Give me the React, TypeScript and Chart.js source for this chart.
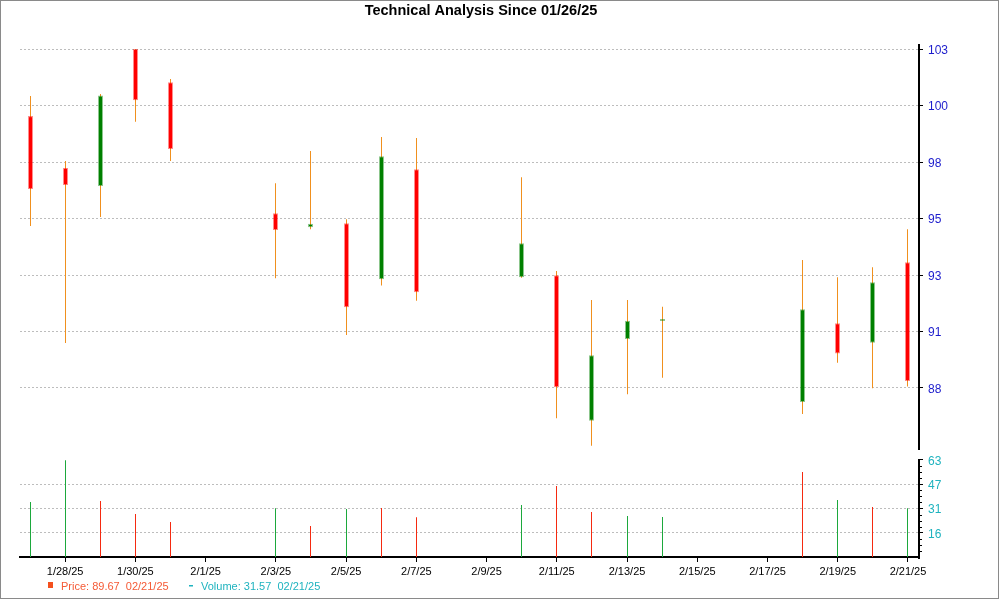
import React, { useEffect, useRef } from 'react';
import { Chart, registerables } from 'chart.js';

Chart.register(...registerables);

const FONT = '"Liberation Sans", Arial, Helvetica, sans-serif';

const titleText = 'Technical Analysis Since 01/26/25';

const dates = ['1/27/25', '1/28/25', '1/29/25', '1/30/25', '1/31/25', '2/3/25', '2/4/25', '2/5/25', '2/6/25', '2/7/25', '2/10/25', '2/11/25', '2/12/25', '2/13/25', '2/14/25', '2/18/25', '2/19/25', '2/20/25', '2/21/25'];
const opens = [99.75, 97.55, 96.78, 102.6, 101.19, 95.62, 95.03, 95.2, 92.82, 97.49, 92.9, 92.99, 86.81, 90.28, 91.05, 87.61, 90.95, 90.12, 93.54];
const highs = [100.6, 97.84, 100.69, 102.6, 101.33, 96.9, 98.27, 95.37, 98.86, 98.82, 97.15, 93.17, 91.94, 91.94, 91.65, 93.64, 92.9, 93.33, 94.94];
const lows = [95.08, 90.11, 95.46, 99.51, 97.84, 92.86, 94.94, 90.45, 92.55, 91.91, 92.88, 86.91, 85.75, 87.93, 88.64, 87.1, 89.27, 88.19, 88.26];
const closes = [96.65, 96.82, 100.63, 100.42, 98.35, 94.91, 95.18, 91.63, 98.04, 92.27, 94.35, 88.23, 89.59, 91.06, 91.07, 91.54, 89.67, 92.69, 88.5];
const volumes = [35.6, 62.6, 36.3, 27.8, 22.7, 31.5, 20.1, 31.1, 31.7, 25.7, 33.7, 46.0, 29.1, 26.5, 25.9, 55.0, 36.9, 32.4, 31.57];
const volumeUp = [true, true, false, false, false, true, false, true, false, false, true, false, false, true, true, false, true, false, true];

const priceTickValues = [88.2, 90.6, 93.0, 95.4, 97.8, 100.2, 102.6];
const priceTickLabels = ['88', '91', '93', '95', '98', '100', '103'];
const volumeTickValues = [15.7, 31.4, 47.1, 62.8];
const volumeTickLabels = ['16', '31', '47', '63'];
const xTickLabels = ['1/28/25', '1/30/25', '2/1/25', '2/3/25', '2/5/25', '2/7/25', '2/9/25', '2/11/25', '2/13/25', '2/15/25', '2/17/25', '2/19/25', '2/21/25'];

const legendPrice = 'Price: 89.67  02/21/25';
const legendVolume = 'Volume: 31.57  02/21/25';

const PRICE_MIN = 85.566;
const PRICE_MAX = 102.813;
const VOL_MAX = 69.27;
const X_PAD = 0.285;

function toUTC(s: string): number {
  const [m, d, y] = s.split('/').map(Number);
  return Date.UTC(2000 + y, m - 1, d);
}
const t0 = toUTC(dates[0]);
function dayOffset(s: string): number {
  return (toUTC(s) - t0) / 86400000;
}

const RED = '#ff0000';
const GREEN = '#008000';
const WICK = '#f0901e';
const VOL_GREEN = '#1ca83c';
const VOL_RED = '#f52a10';
const PRICE_LABEL = '#1c1ccc';
const VOL_LABEL = '#1fb3bf';

const snapPlugin = {
  id: 'snap',
  beforeDatasetsDraw(chart: any) {
    chart.getSortedVisibleDatasetMetas().forEach((meta: any) => {
      meta.data.forEach((el: any) => {
        el.x = Math.floor(el.x) + 0.5;
      });
    });
  },
};

const decorPlugin = {
  id: 'decor',
  beforeDraw(chart: any) {
    const ctx = chart.ctx;
    ctx.save();
    ctx.fillStyle = '#ffffff';
    ctx.fillRect(0, 0, chart.width, chart.height);
    ctx.restore();
  },
  afterDraw(chart: any) {
    const ctx = chart.ctx;
    const area = chart.chartArea;
    const ys = chart.scales.y;
    const yv = chart.scales.yv;
    ctx.save();
    // axis lines
    ctx.strokeStyle = '#000';
    ctx.lineWidth = 2;
    const ax = area.right + 1;
    ctx.beginPath();
    ctx.moveTo(ax, ys.top);
    ctx.lineTo(ax, ys.bottom);
    ctx.stroke();
    ctx.beginPath();
    ctx.moveTo(ax, yv.getPixelForValue(volumeTickValues[volumeTickValues.length - 1]));
    ctx.lineTo(ax, yv.getPixelForValue(0) + 2);
    ctx.stroke();
    // minor ticks volume
    ctx.lineWidth = 1;
    const step = volumeTickValues[0] / 4;
    for (let k = 1; k < 16; k++) {
      if (k % 4 === 0) continue;
      const py = Math.round(yv.getPixelForValue(k * step)) + 0.5;
      ctx.beginPath();
      ctx.moveTo(area.right, py);
      ctx.lineTo(area.right + 4, py);
      ctx.stroke();
    }
    // title
    ctx.fillStyle = '#000';
    ctx.font = 'bold 14.5px ' + FONT;
    ctx.textAlign = 'center';
    ctx.textBaseline = 'middle';
    ctx.fillText(titleText, 481, 10.5);
    // legend
    ctx.font = '11px ' + FONT;
    ctx.textAlign = 'left';
    ctx.fillStyle = '#f4501e';
    ctx.fillRect(48, 582, 5, 6);
    ctx.fillStyle = '#f55a36';
    ctx.fillText(legendPrice, 61, 587);
    ctx.fillStyle = VOL_LABEL;
    ctx.fillRect(189, 585, 4, 1.5);
    ctx.fillText(legendVolume, 201, 587);
    // frame
    ctx.strokeStyle = '#8a8a8a';
    ctx.lineWidth = 1;
    ctx.strokeRect(0.5, 0.5, 998, 598);
    ctx.restore();
  },
};

export default function App() {
  const ref = useRef<HTMLCanvasElement>(null);
  useEffect(() => {
    const xs = dates.map(dayOffset);
    const bodyColors = dates.map((_, i) => (closes[i] >= opens[i] ? GREEN : RED));
    const bodyBorders = dates.map((_, i) => (closes[i] >= opens[i] ? 'rgba(0,128,0,0.45)' : 'rgba(255,0,0,0.45)'));
    const chart = new Chart(ref.current as HTMLCanvasElement, {
      type: 'bar',
      data: {
        datasets: [
          {
            label: 'Body',
            data: xs.map((x, i) => ({ x, y: [opens[i], closes[i]] })) as any,
            backgroundColor: bodyColors,
            borderColor: bodyBorders,
            borderWidth: 1,
            borderSkipped: false,
            barThickness: 5,
            minBarLength: 2,
            grouped: false,
            inflateAmount: 0,
            yAxisID: 'y',
            order: 1,
          } as any,
          {
            label: 'Wick',
            data: xs.map((x, i) => ({ x, y: [lows[i], highs[i]] })) as any,
            backgroundColor: WICK,
            borderWidth: 0,
            barThickness: 1,
            grouped: false,
            inflateAmount: 0,
            yAxisID: 'y',
            order: 2,
          } as any,
          {
            label: 'Volume',
            data: xs.map((x, i) => ({ x, y: volumes[i] })) as any,
            backgroundColor: volumeUp.map((u) => (u ? VOL_GREEN : VOL_RED)),
            borderWidth: 0,
            barThickness: 1,
            grouped: false,
            inflateAmount: 0,
            yAxisID: 'yv',
            order: 3,
          } as any,
        ],
      },
      options: {
        responsive: false,
        maintainAspectRatio: false,
        devicePixelRatio: 1,
        animation: false,
        layout: { padding: { left: 20, top: 44, right: 0, bottom: 0 } },
        plugins: {
          legend: { display: false },
          tooltip: { enabled: false },
          title: { display: false },
        },
        scales: {
          x: {
            type: 'linear',
            min: -X_PAD,
            max: dayOffset(dates[dates.length - 1]) + X_PAD,
            offset: false,
            afterBuildTicks: (s: any) => {
              s.ticks = xTickLabels.map((l) => ({ value: dayOffset(l) }));
            },
            afterFit: (s: any) => {
              s.height = 43;
            },
            grid: { drawOnChartArea: false, drawTicks: true, tickLength: 5, tickColor: '#000', offset: false },
            border: { display: true, color: '#000', width: 2 },
            ticks: {
              autoSkip: false,
              maxRotation: 0,
              padding: 3,
              color: '#000',
              font: { family: FONT, size: 11 },
              callback: (_v: any, i: number) => xTickLabels[i],
            },
          },
          y: {
            type: 'linear',
            position: 'right',
            stack: 'right',
            stackWeight: 406,
            min: PRICE_MIN,
            max: PRICE_MAX,
            afterBuildTicks: (s: any) => {
              s.ticks = priceTickValues.map((v) => ({ value: v }));
            },
            afterFit: (s: any) => {
              s.width = 82;
            },
            grid: { color: '#bdbdbd', lineWidth: 1, drawTicks: true, tickLength: 5, tickColor: '#000' },
            border: { display: false, dash: [2, 2] },
            ticks: {
              autoSkip: false,
              padding: 5,
              labelOffset: 1.5,
              color: PRICE_LABEL,
              font: { family: FONT, size: 12 },
              callback: (_v: any, i: number) => priceTickLabels[i],
            },
          },
          yv: {
            type: 'linear',
            position: 'right',
            stack: 'right',
            stackWeight: 107,
            min: 0,
            max: VOL_MAX,
            afterBuildTicks: (s: any) => {
              s.ticks = volumeTickValues.map((v) => ({ value: v }));
            },
            afterFit: (s: any) => {
              s.width = 82;
            },
            grid: {
              color: (c: any) => (c.index === volumeTickValues.length - 1 ? 'rgba(0,0,0,0)' : '#bdbdbd'),
              lineWidth: 1,
              drawTicks: true,
              tickLength: 5,
              tickColor: '#000',
            },
            border: { display: false, dash: [2, 2] },
            ticks: {
              autoSkip: false,
              padding: 5,
              labelOffset: 1.5,
              color: VOL_LABEL,
              font: { family: FONT, size: 12 },
              callback: (_v: any, i: number) => volumeTickLabels[i],
            },
          },
        } as any,
      },
      plugins: [snapPlugin, decorPlugin],
    });
    return () => chart.destroy();
  }, []);
  return (
    <div style={{ position: 'absolute', left: 0, top: 0, width: 1000, height: 600 }}>
      <canvas ref={ref} width={1000} height={600} style={{ display: 'block', width: 1000, height: 600 }} />
    </div>
  );
}
